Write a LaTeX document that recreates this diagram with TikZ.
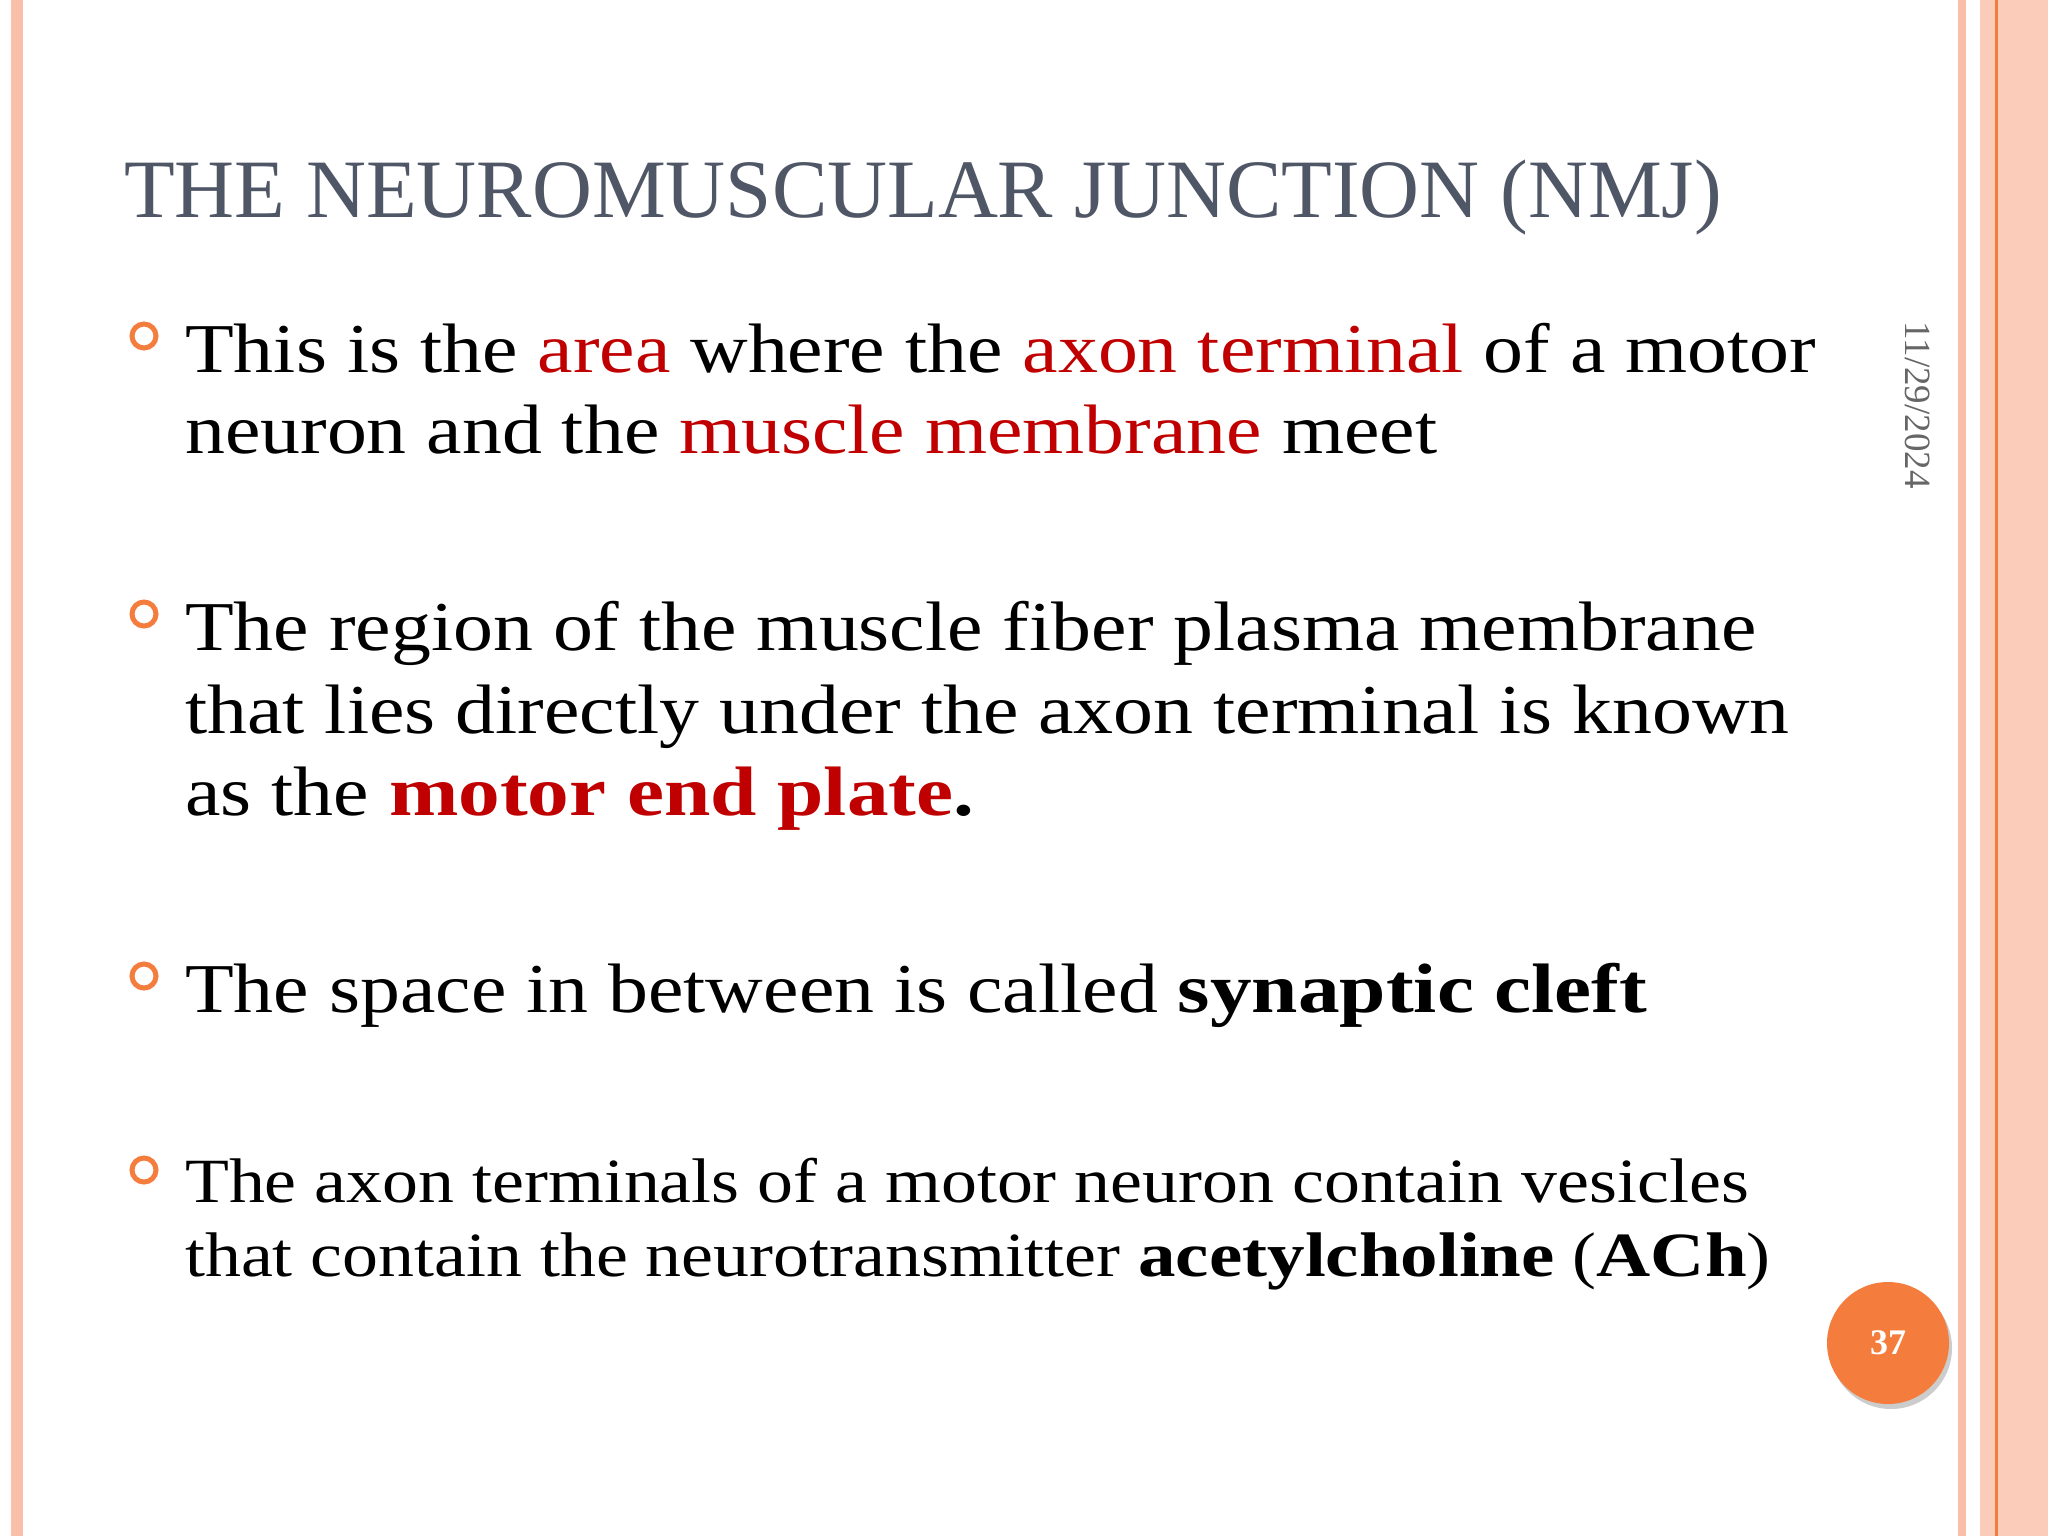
\documentclass[tikz,border=0pt]{standalone}
\usepackage{fontspec}
\setmainfont[FakeStretch=1.14,BoldFeatures={FakeStretch=1.19}]{Liberation Serif}
\newfontfamily\plainserif{Liberation Serif}
\definecolor{salmon}{HTML}{F9BFA8}
\definecolor{dred}{HTML}{C00000}
\definecolor{ttl}{HTML}{4F5666}
\definecolor{orng}{HTML}{F47C3C}
\begin{document}
\begin{tikzpicture}[x=1pt,y=-1pt,
  body/.style={anchor=base west,inner sep=0,font=\fontsize{70}{70}\selectfont},
  smallbody/.style={anchor=base west,inner sep=0,font=\fontsize{63}{63}\selectfont},
  ring/.style={draw=orng,line width=5pt,fill=white,circle,minimum size=24pt,inner sep=0}]
\fill[white] (0,0) rectangle (2048,1536);
\useasboundingbox (0,0) rectangle (2048,1536);
\fill[salmon] (11,0) rectangle (23,1536);
\fill[salmon] (1958,0) rectangle (1966,1536);
\fill[salmon!80] (1980,0) rectangle (2048,1536);
\fill[orng] (1995,0) rectangle (1998,1536);
\node[anchor=base west,inner sep=0,text=ttl,font=\plainserif\fontsize{83}{83}\selectfont] (title) at (124,217) {THE NEUROMUSCULAR JUNCTION (NMJ)};
\node[ring] (b1) at (144,336) {};
\node[ring] (b2) at (144,614) {};
\node[ring] (b3) at (144,976) {};
\node[ring] (b4) at (144,1170) {};
\node[body] (l1) at (185,372) {This is the \textcolor{dred}{area} where the \textcolor{dred}{axon terminal} of a motor};
\node[body] (l2) at (185,453) {neuron and the \textcolor{dred}{muscle membrane} meet};
\node[body] (l3) at (185,650) {The region of the muscle fiber plasma membrane};
\node[body] (l4) at (185,733) {that lies directly under the axon terminal is known};
\node[body] (l5) at (185,815) {as the \textcolor{dred}{\bfseries motor end plate}\textbf{.}};
\node[body] (l6) at (185,1012) {The space in between is called \textbf{synaptic cleft}};
\node[smallbody] (l7) at (185,1202) {The axon terminals of a motor neuron contain vesicles};
\node[smallbody] (l8) at (185,1276) {that contain the neurotransmitter \textbf{acetylcholine} (\textbf{ACh})};
\node[rotate=-90,text=gray!80!black,font=\plainserif\fontsize{37}{37}\selectfont] (date) at (1918,405) {11/29/2024};
\fill[black!20] (1891,1348) circle (61);
\node[circle,fill=orng,minimum size=122pt,inner sep=0,text=white,font=\plainserif\bfseries\fontsize{36}{36}\selectfont] (pg) at (1888,1343) {37};
\end{tikzpicture}
\end{document}
